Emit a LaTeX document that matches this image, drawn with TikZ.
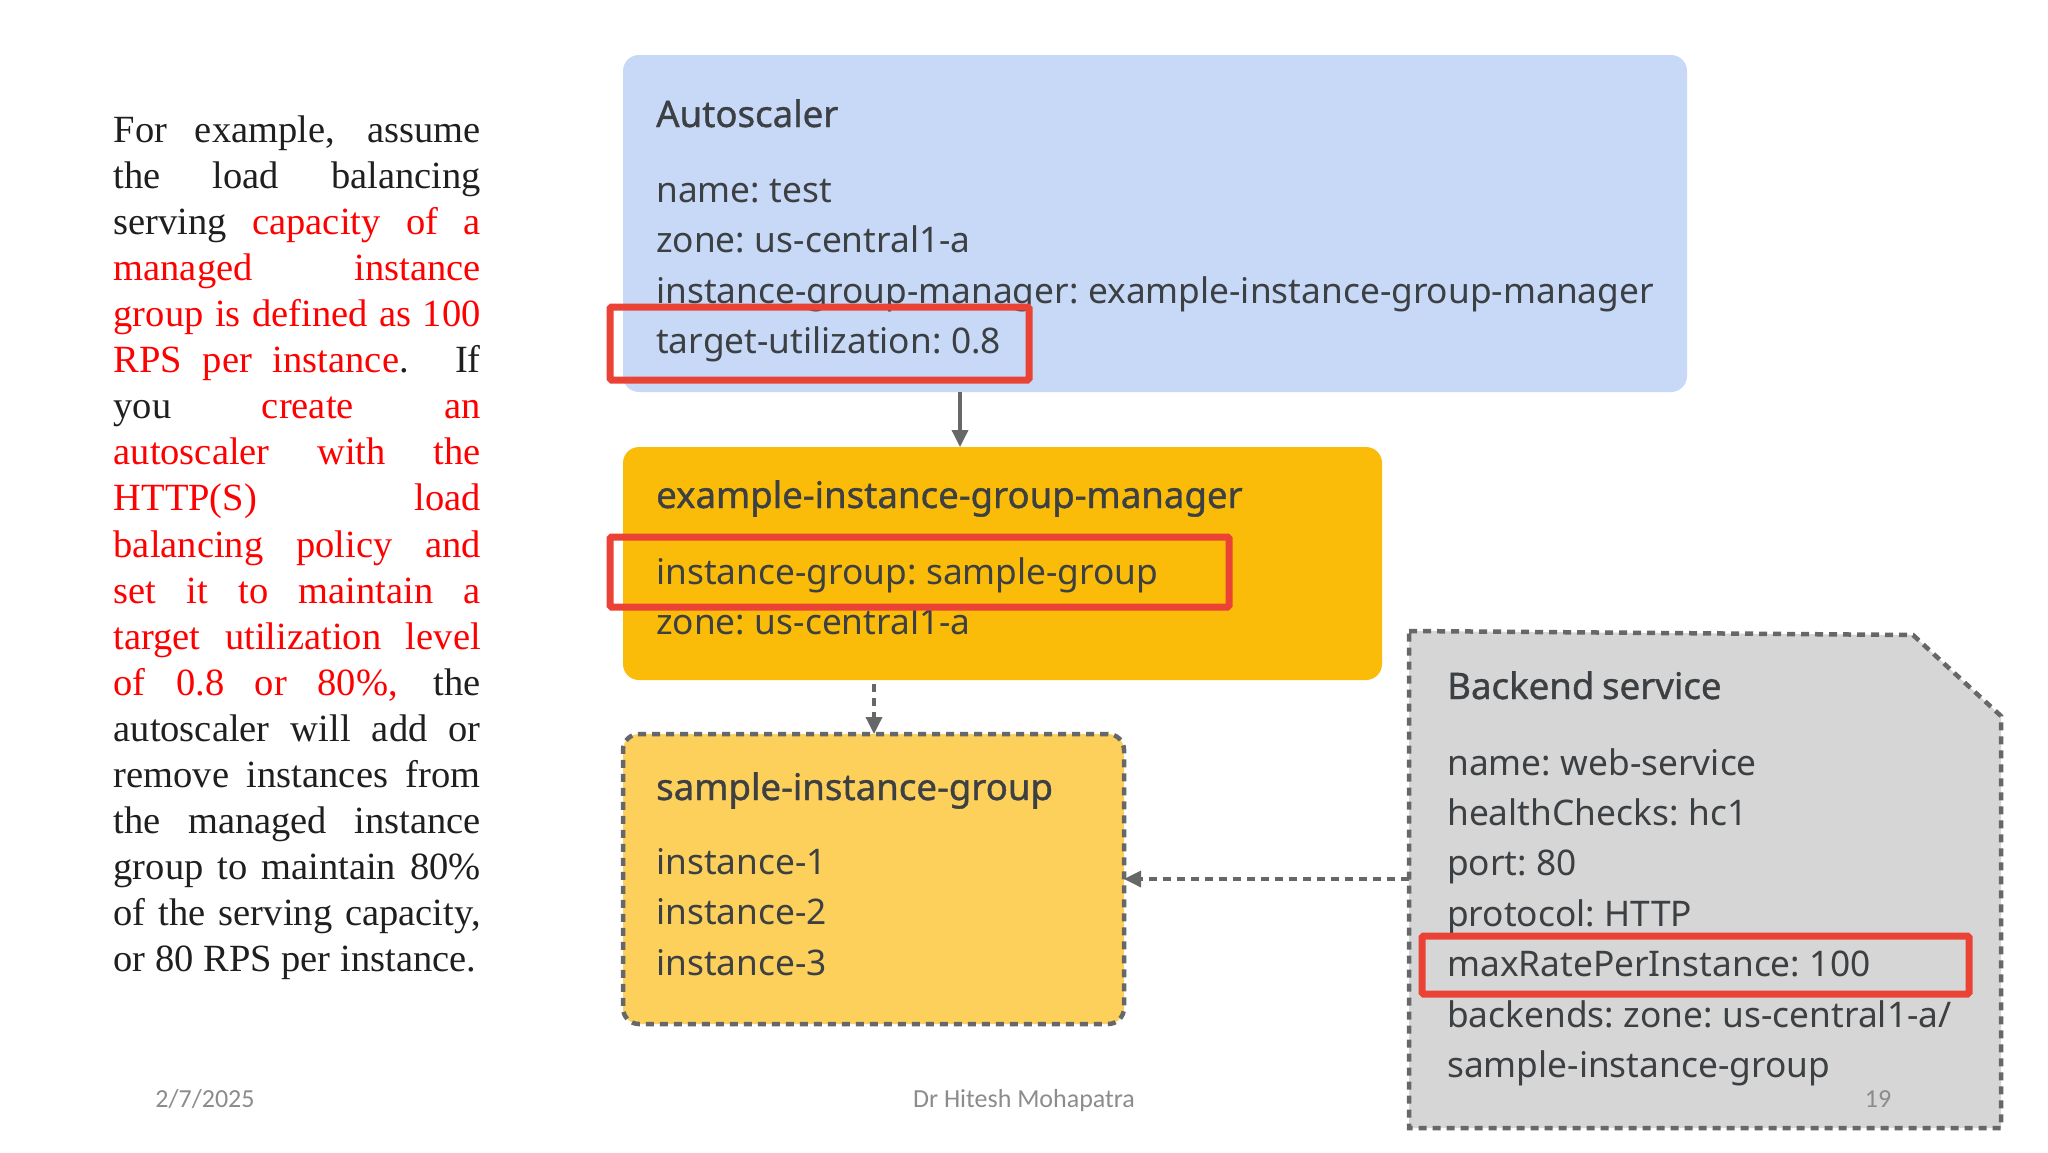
\documentclass[tikz,border=0pt]{standalone}
\usepackage{fontspec}
\setmainfont{Liberation Serif}
\newfontfamily\gsans[WordSpace=0.72]{Noto Sans}
\newfontfamily\gsanshead[FakeBold=1,WordSpace=0.8]{Noto Sans}
\newfontfamily\footf{Carlito}
\usetikzlibrary{arrows.meta}
\definecolor{inkgrey}{HTML}{3C4043}
\definecolor{autoblue}{HTML}{C7D9F7}
\definecolor{mgrgold}{HTML}{FBBC09}
\definecolor{samplegold}{HTML}{FDD05C}
\definecolor{backgrey}{HTML}{D6D6D6}
\definecolor{frame}{HTML}{666769}
\definecolor{hilite}{HTML}{EA4335}
\definecolor{footgrey}{HTML}{8C8C8C}
\newcommand{\jl}[1]{\makebox[367pt][s]{#1}\\}
\newcommand{\rd}{\color{red}}
\newcommand{\bk}{\color{black!88}}
\tikzset{
  panel/.style={rectangle,rounded corners=16pt,anchor=north west,inner sep=0pt,outer sep=0pt},
  dashframe/.style={draw=frame,line width=4.5pt,dash pattern=on 8pt off 6pt},
  hibox/.style={rectangle,draw=hilite,line width=7pt,rounded corners=1.5pt,anchor=north west,inner sep=0pt,outer sep=0pt},
  bodytext/.style={anchor=north west,inner sep=0pt,align=left,text=inkgrey,font={\gsans\fontsize{35.3pt}{50.4pt}\selectfont}},
  headtext/.style={anchor=base west,inner sep=0pt,text=inkgrey,font={\gsanshead\fontsize{36.6pt}{40pt}\selectfont}},
  foot/.style={anchor=base,inner sep=0pt,text=footgrey,font={\footf\fontsize{26pt}{28pt}\selectfont}},
  link/.style={draw=frame,line width=3.5pt,-{Triangle[length=17pt,width=16pt]}},
  dashlink/.style={link,dash pattern=on 8pt off 6pt}
}
\begin{document}
\begin{tikzpicture}[x=1pt,y=-1pt]
\useasboundingbox (0,0) rectangle (2048,1152);
\fill[white] (0,0) rectangle (2048,1152);

% left paragraph
\node[anchor=north west,inner sep=0pt,align=left,font={\fontsize{38.5pt}{46.07pt}\selectfont}] (para) at (113.5,115.5) {%
\jl{\bk For example, assume}
\jl{\bk the load balancing}
\jl{\bk serving \rd capacity of a}
\jl{\rd managed instance}
\jl{\rd group is defined as 100}
\jl{\rd RPS per instance\bk. If}
\jl{\bk you \rd create an}
\jl{\rd autoscaler with the}
\jl{\rd HTTP(S) load}
\jl{\rd balancing policy and}
\jl{\rd set it to maintain a}
\jl{\rd target utilization level}
\jl{\rd of 0.8 or 80\%, \bk the}
\jl{\bk autoscaler will add or}
\jl{\bk remove instances from}
\jl{\bk the managed instance}
\jl{\bk group to maintain 80\%}
\jl{\bk of the serving capacity,}
{\bk or 80 RPS per instance.}};

% panels
\node[panel,fill=autoblue,minimum width=1064pt,minimum height=337pt] (auto) at (623,55) {};
\node[panel,fill=mgrgold,minimum width=759pt,minimum height=233pt] (mgr) at (623,447) {};
\node[panel,fill=samplegold,dashframe,minimum width=501pt,minimum height=290pt] (sample) at (623,734) {};
\path[fill=backgrey] (1409,631) -- (1913,635) -- (2001,716) -- (2001,1128) -- (1409,1128) -- cycle;
\draw[dashframe] (1409,631) -- (1913,635) -- (2001,716) -- (2001,1128) -- (1409,1128) -- cycle;
\coordinate (backw) at (1409,879);

% connectors
\coordinate (solidx) at (960,0);
\coordinate (dashx) at (874,0);
\draw[link] (auto.south -| solidx) -- (mgr.north -| solidx);
\draw[dashlink] ([yshift=-4pt]mgr.south -| dashx) -- (sample.north -| dashx);
\draw[dashlink] (backw) -- (sample.east |- backw);

% texts
\node[headtext] (autoh) at (656,127) {Autoscaler};
\node[bodytext] (autob) at (656,179) {name: test\\zone: us-central1-a\\instance-group-manager: example-instance-group-manager\\target-utilization: 0.8};
\node[headtext] (mgrh) at (656,508) {example-instance-group-manager};
\node[bodytext] (mgrb) at (656,557) {instance-group: sample-group\\zone: us-central1-a};
\node[headtext] (sampleh) at (656,800) {sample-instance-group};
\node[bodytext] (sampleb) at (656,848) {instance-1\\instance-2\\instance-3};
\node[headtext] (backh) at (1447,699) {Backend service};
\node[bodytext] (backb) at (1447,748) {name: web-service\\healthChecks: hc1\\port: 80\\protocol: HTTP\\maxRatePerInstance: 100\\backends: zone: us-central1-a/\\sample-instance-group};

% highlights
\node[hibox,minimum width=419pt,minimum height=73pt] (hi1) at (610,307) {};
\node[hibox,minimum width=619pt,minimum height=70pt] (hi2) at (610,537) {};
\node[hibox,minimum width=547pt,minimum height=58pt] (hi3) at (1422,936) {};

% footer
\node[foot] (fdate) at (205,1107) {2/7/2025};
\node[foot] (fname) at (1024,1107) {Dr Hitesh Mohapatra};
\node[foot] (fnum) at (1878,1107) {19};
\end{tikzpicture}
\end{document}
